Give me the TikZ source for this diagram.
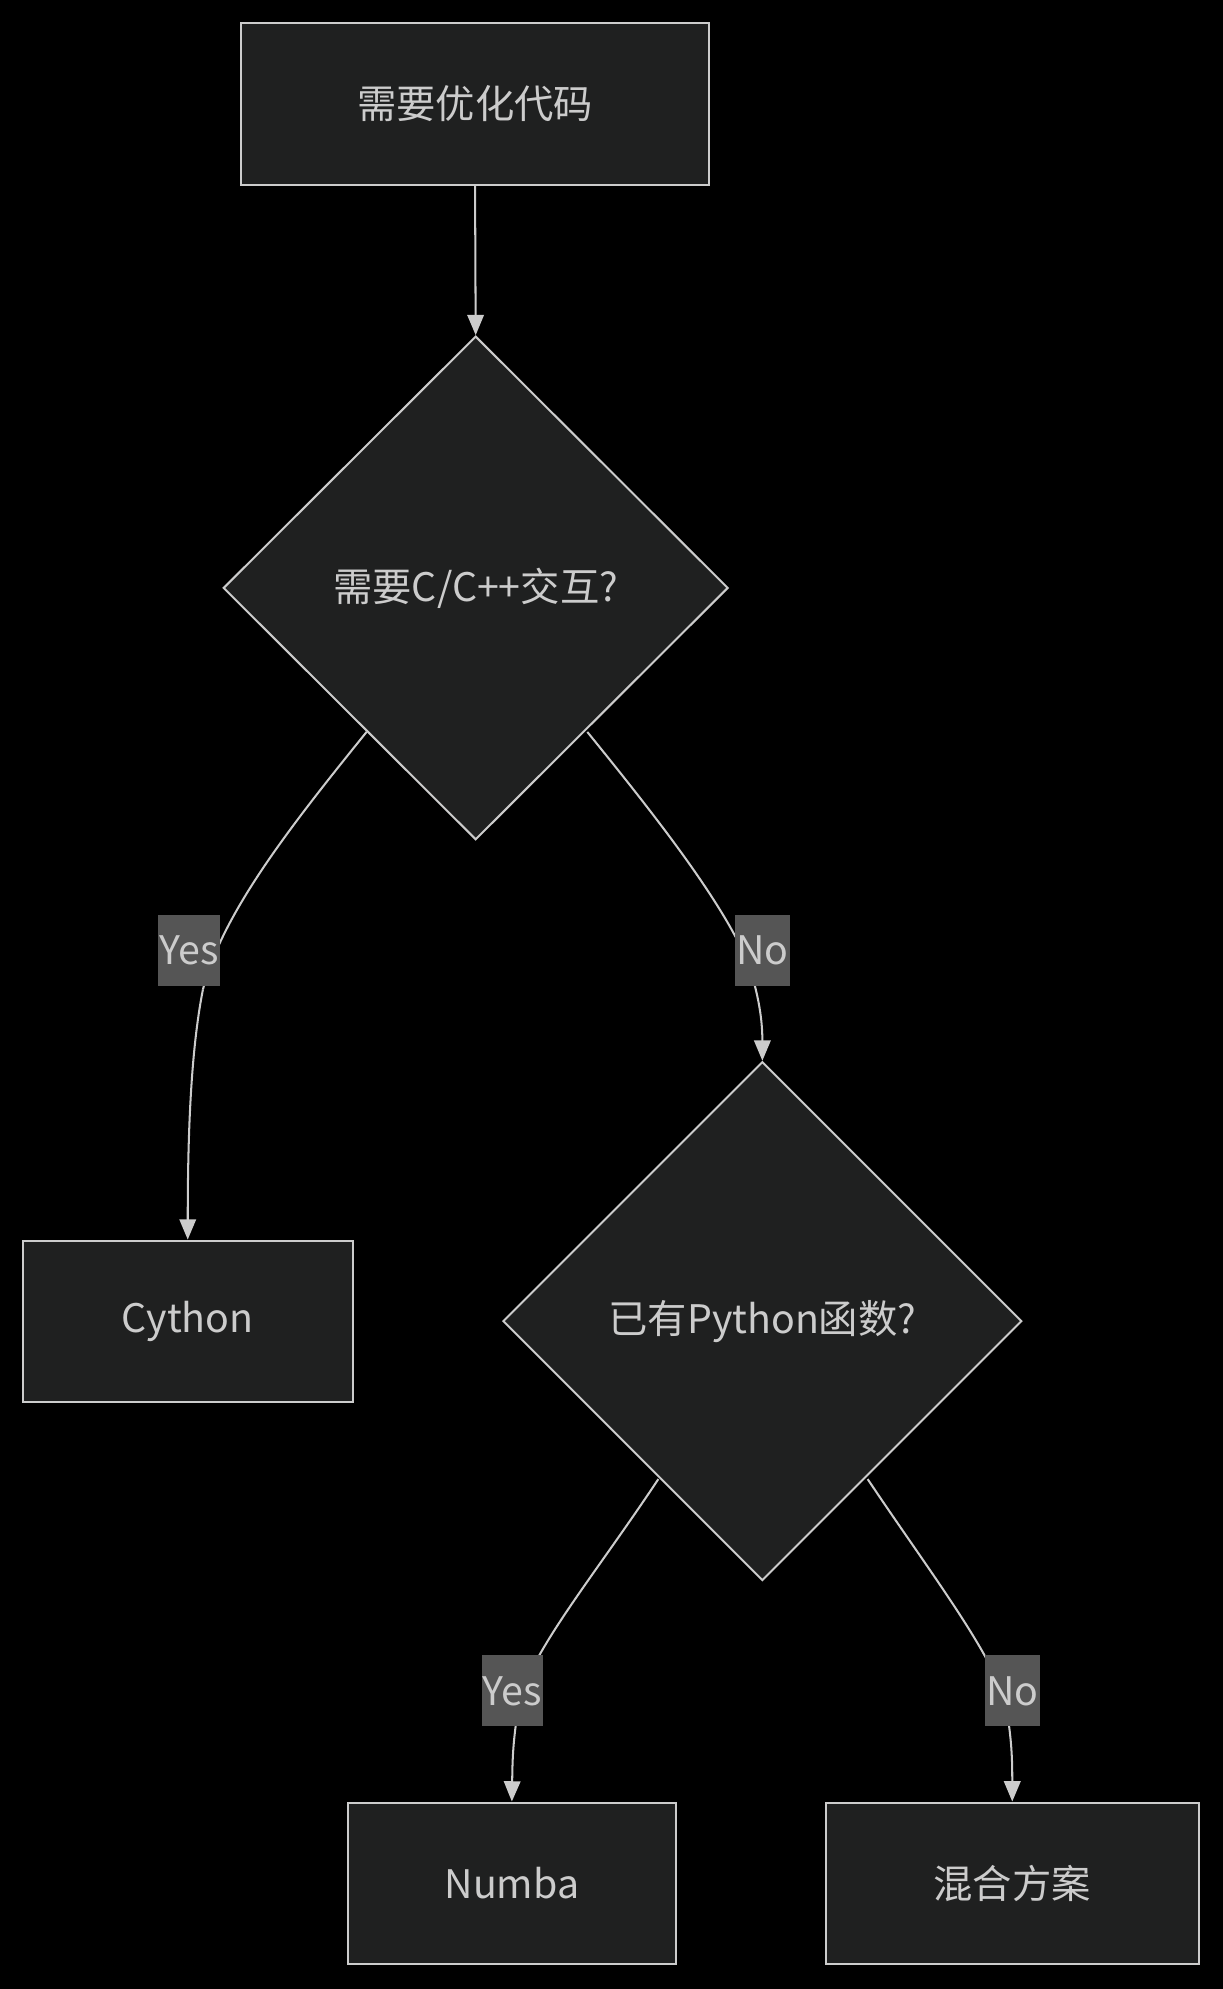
\documentclass[tikz,border=0pt]{standalone}
\usepackage{fontspec}
\setmainfont{Noto Sans CJK SC}
\usetikzlibrary{shapes.geometric,arrows.meta}
\definecolor{nfill}{HTML}{1F2020}
\definecolor{nline}{HTML}{CCCCCC}
\definecolor{lbg}{HTML}{555555}
\begin{document}
\begin{tikzpicture}[x=1pt,y=-1pt,
  box/.style={draw=nline,fill=nfill,line width=1.6pt,text=nline,font=\fontsize{31}{36}\selectfont,inner sep=0},
  dia/.style={diamond,draw=nline,fill=nfill,line width=1.6pt,text=nline,font=\fontsize{31}{36}\selectfont,inner sep=0},
  lbl/.style={fill=lbg,text=nline,font=\fontsize{31}{36}\selectfont,inner sep=1pt,minimum height=56pt},
  edge/.style={draw=nline,line width=1.6pt,-{Triangle[width=13pt,length=16pt]}},
  ln/.style={draw=nline,line width=1.6pt}]
\fill[black] (0,0) rectangle (964,1568);
\useasboundingbox (0,0) rectangle (964,1568);
\node[box,minimum width=369pt,minimum height=128pt] (a) at (374.5,82) {需要优化代码};
\node[dia,minimum width=398pt,minimum height=397pt] (d1) at (375,463.5) {需要C/C++交互?};
\node[box,minimum width=260pt,minimum height=127pt] (cy) at (148,1041.5) {Cython};
\node[dia,minimum width=409pt,minimum height=409pt] (d2) at (601,1041.5) {已有Python函数?};
\node[box,minimum width=259pt,minimum height=127pt] (nb) at (403.5,1484.5) {Numba};
\node[box,minimum width=294pt,minimum height=127pt] (mix) at (798,1484.5) {混合方案};
\coordinate (p1) at (289,577);
\coordinate (p2) at (463,577);
\coordinate (p3) at (519,1166);
\coordinate (p4) at (684,1166);
\draw[edge] (a.south) -- (d1.north);
\draw[ln] (p1) .. controls (230,650) and (175,720) .. (160,780);
\draw[edge] (160,780) .. controls (150,830) and (148,900) .. (cy.north);
\draw[ln] (p2) .. controls (510,635) and (570,710) .. (590,760);
\draw[edge] (590,760) .. controls (600,790) and (601,810) .. (d2.north);
\draw[ln] (p3) .. controls (470,1240) and (420,1300) .. (410,1340);
\draw[edge] (410,1340) .. controls (404,1370) and (404,1390) .. (nb.north);
\draw[ln] (p4) .. controls (730,1235) and (780,1300) .. (792,1340);
\draw[edge] (792,1340) .. controls (798,1370) and (798,1390) .. (mix.north);
\node[lbl] (y1) at (149,749) {Yes};
\node[lbl] (n1) at (601,749) {No};
\node[lbl] (y2) at (404,1333) {Yes};
\node[lbl] (n2) at (798,1333) {No};
\end{tikzpicture}
\end{document}
